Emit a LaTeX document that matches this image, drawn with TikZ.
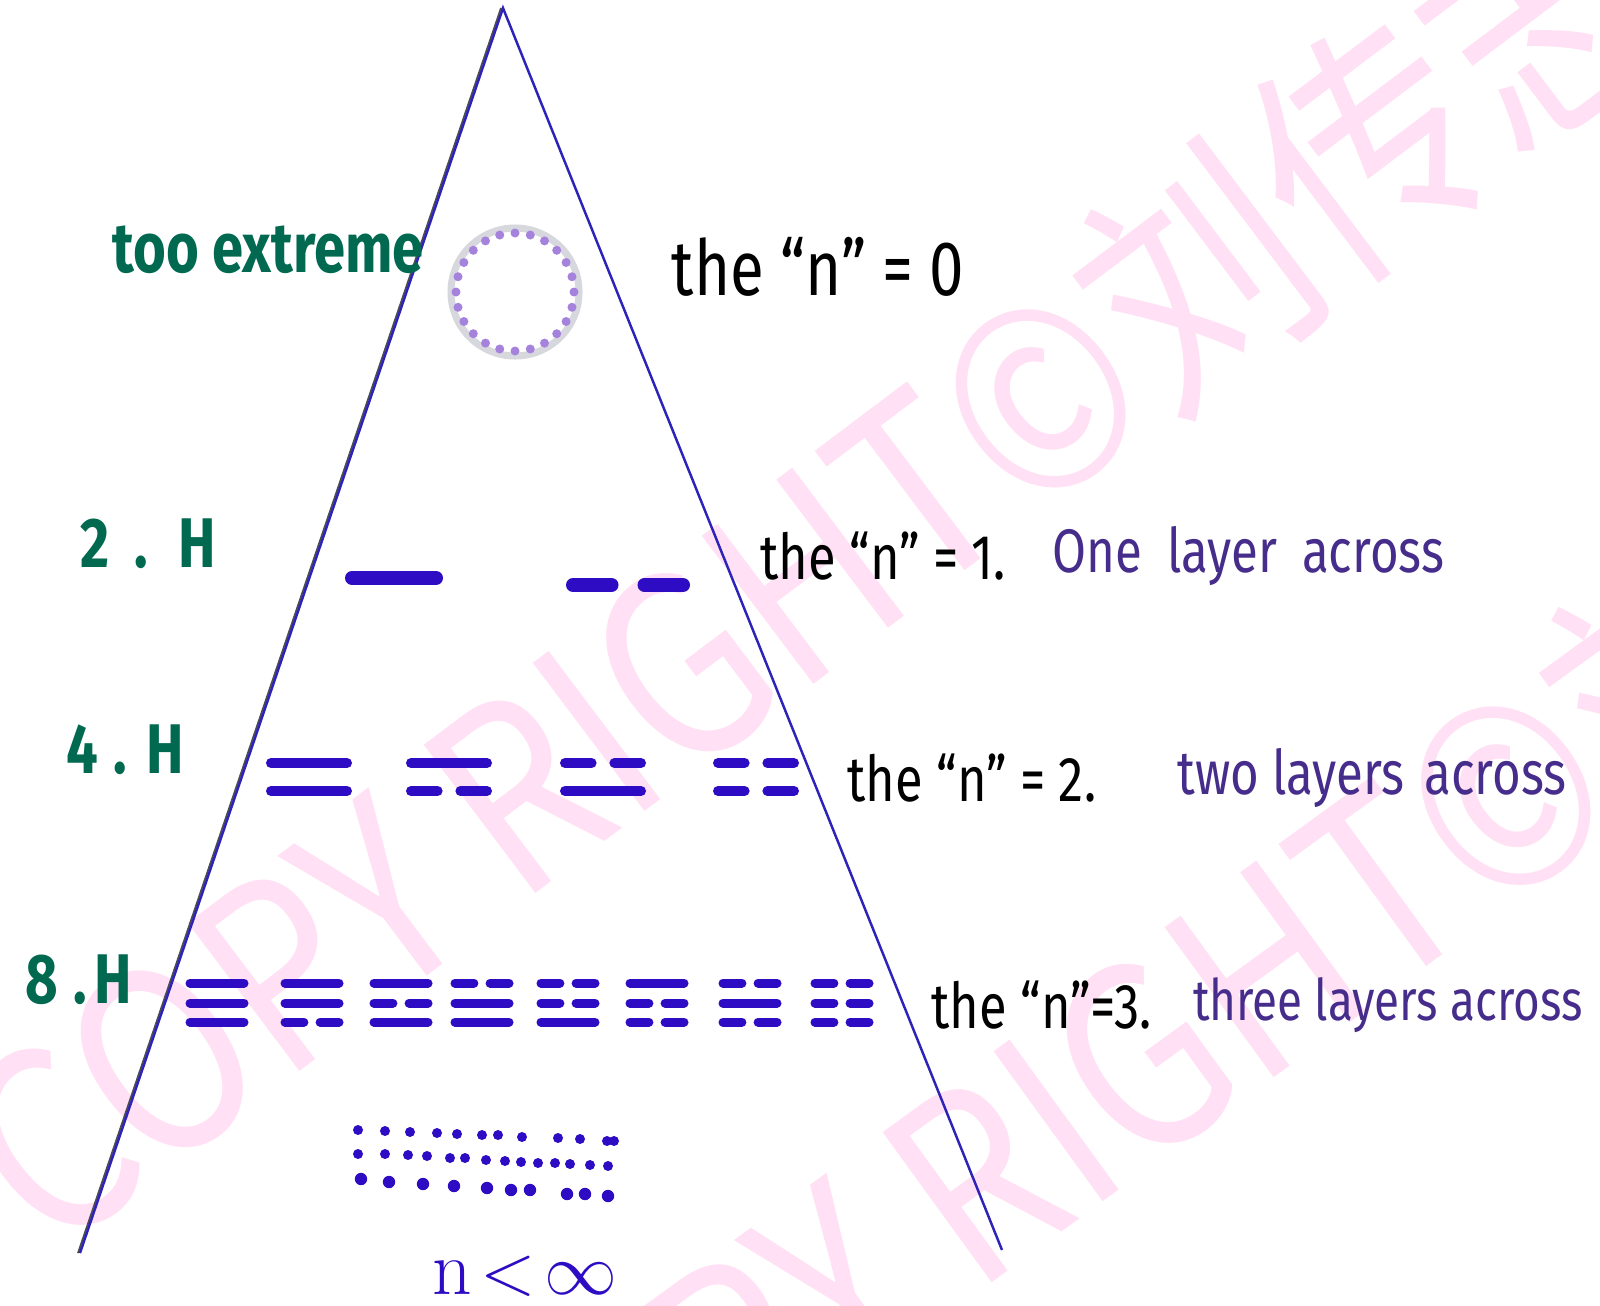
\documentclass[tikz,border=0pt]{standalone}
\usepackage{fontspec}
\usepackage{graphicx}
\usetikzlibrary{positioning}
\newfontfamily\hand[FakeStretch=0.8]{Fira Sans}
\newfontfamily\cjk{Noto Sans CJK SC}
\definecolor{hexblue}{RGB}{45,12,195}
\definecolor{edgeblue}{RGB}{45,35,185}
\definecolor{hexgreen}{RGB}{0,105,80}
\definecolor{notepurple}{RGB}{70,45,140}
\definecolor{wmpink}{RGB}{255,224,244}
\definecolor{dotpurple}{RGB}{165,130,220}
\definecolor{ringgray}{RGB}{215,215,222}
\tikzset{
  hexlabel/.style={text=hexgreen, font=\hand\bfseries\fontsize{20}{22}\selectfont, anchor=west, inner sep=0pt}, % 2.H, 4.H, 8.H on the left
  nlabel/.style={text=black, font=\hand\fontsize{18}{20}\selectfont, anchor=west, inner sep=0pt}, % the "n" = ...
  across/.style={text=notepurple, font=\hand\fontsize{17.5}{20}\selectfont, anchor=west, inner sep=0pt}, % layers across
  bar/.style={draw=hexblue, line cap=round, line width=#1}, % one yao stroke
  bar/.default=1mm,
  edge/.style={draw=edgeblue, line width=0.7pt}, % sides of the triangle
  watermark/.style={text=wmpink, font=\cjk\fontsize{72}{72}\selectfont, inner sep=0pt, anchor=base west},
}
% one line of a hexagram: centre x, y, half width, 1 = solid / 0 = broken, thickness
\newcommand{\yao}[5]{%
  \ifnum#4=1
    \draw[bar=#5] (#1-#3,#2) -- (#1+#3,#2);
  \else
    \draw[bar=#5] (#1-#3,#2) -- (#1-0.3*#3,#2) (#1+0.3*#3,#2) -- (#1+#3,#2);
  \fi}
\begin{document}
\begin{tikzpicture}[x=0.1mm, y=-0.1mm]
  \useasboundingbox (0,0) rectangle (1600,1306);
  \fill[white] (0,0) rectangle (1600,1306);
  % watermark
  \begin{scope}
    \clip (0,0) rectangle (1600,1306);
    \node[watermark, rotate=37] (wm1) at (50,1260) {\scalebox{0.85}[1]{COPY RIGHT©刘传志}};
    \node[watermark, rotate=36] (wm2) at (500,1640) {\scalebox{0.85}[1]{COPY RIGHT©刘传志}};
  \end{scope}
  % triangle
  \coordinate (apex) at (503,8);
  \coordinate (bl) at (80,1253);
  \coordinate (br) at (1002,1250);
  \draw[black!70, line width=0.5pt] ([xshift=-0.2mm]bl) -- ([xshift=-0.2mm]apex);
  \draw[edge] (bl) -- (apex) -- (br);
  % n = 0
  \node[circle, draw=ringgray, line width=2pt, minimum size=12.8mm, inner sep=0pt] (zero) at (515,292) {};
  \foreach \a in {0,15,...,345}
    \fill[dotpurple] (zero.center) ++(\a:59) circle[radius=0.45mm];
  \node[hexlabel, font=\hand\bfseries\fontsize{20}{22}\selectfont] (extreme) at (112,250) {too extreme};
  \node[nlabel, font=\hand\fontsize{22}{24}\selectfont] (n0) at (671,267) {the “n” = 0};
  % n = 1
  \node[hexlabel] (h2) at (80,544) {2\hspace{2.5mm}.\hspace{3mm}H};
  \yao{394}{578}{42}{1}{1.4mm}
  \yao{628}{585}{55}{0}{1.4mm}
  \node[nlabel] (n1) at (760,556) {the “n” = 1.};
  \node[across, right=4.5mm of n1] (a1) {One\hspace{2.5mm}layer\hspace{2.5mm}across};
  % n = 2
  \node[hexlabel] (h4) at (66,750) {4\hspace{1.5mm}.\hspace{2mm}H};
  \foreach \cx/\a/\b in {309/1/1, 449/1/0, 603/0/1, 756/0/0}{
    \yao{\cx}{763}{38}{\a}{1mm}
    \yao{\cx}{791}{38}{\b}{1mm}
  }
  \node[nlabel] (n2) at (847,778) {the “n” = 2.};
  \node[across, right=8mm of n2] (a2) {two layers\hspace{2mm}across};
  % n = 3
  \node[hexlabel] (h8) at (25,980) {8\hspace{1.5mm}.\hspace{0.8mm}H};
  \foreach \cx/\a/\b/\c in {217/1/1/1, 312/1/1/0, 401/1/0/1, 482/0/1/1, 568/0/0/1, 657/1/0/0, 750/0/1/0, 842/0/0/0}{
    \yao{\cx}{983}{27}{\a}{0.9mm}
    \yao{\cx}{1003}{27}{\b}{0.9mm}
    \yao{\cx}{1022}{27}{\c}{0.9mm}
  }
  \node[nlabel] (n3) at (931,1005) {the “n”=3.};
  \node[across, right=4mm of n3, font=\hand\fontsize{16.3}{19}\selectfont] (a3) {three layers across};
  % n < infinity
  \foreach \dx/\dy in {358/1130,385/1131,410/1132,437/1133,457/1134,482/1135,498/1135,522/1137,558/1138,580/1139,607/1141,614/1141,
                       358/1154,385/1154,408/1155,427/1156,450/1158,465/1158,486/1160,505/1161,521/1162,538/1163,555/1163,570/1164,590/1165,608/1166}
    \fill[hexblue] (\dx,\dy) circle[radius=0.5mm];
  \foreach \dx/\dy in {361/1179,389/1182,423/1184,454/1186,487/1188,511/1190,530/1190,567/1194,585/1194,608/1196}
    \fill[hexblue] (\dx,\dy) circle[radius=0.62mm];
  \node[text=hexblue, font=\fontsize{22}{24}\selectfont, inner sep=0pt] (inf) at (525,1276) {$\mathrm{n}\!<\!\infty$};
\end{tikzpicture}
\end{document}
